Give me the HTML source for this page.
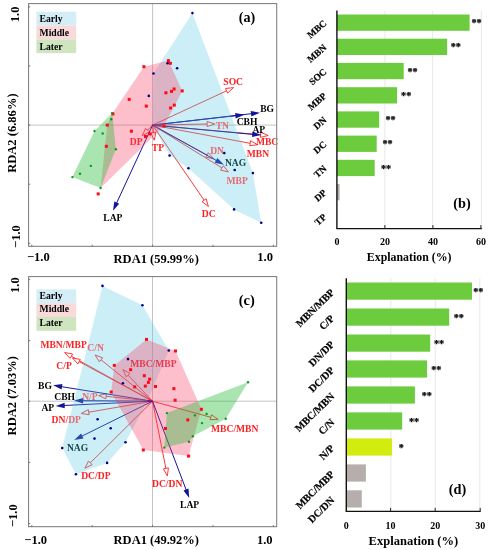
<!DOCTYPE html><html><head><meta charset="utf-8"><title>RDA</title><style>html,body{margin:0;padding:0;background:#fff}svg{display:block}text{font-family:"Liberation Serif",serif;font-weight:bold}</style></head><body>
<svg width="490" height="550" viewBox="0 0 490 550">
<defs><filter id="soft" x="0" y="0" width="100%" height="100%" filterUnits="userSpaceOnUse" color-interpolation-filters="sRGB"><feGaussianBlur stdDeviation="0.45"/></filter></defs>
<rect width="490" height="550" fill="#fff"/>
<g filter="url(#soft)">
<rect width="490" height="550" fill="#fff"/>
<line x1="28.6" y1="125.1" x2="276.7" y2="125.1" stroke="#ababab" stroke-width="0.7"/>
<line x1="152.6" y1="3.6" x2="152.6" y2="246.3" stroke="#ababab" stroke-width="0.7"/>
<rect x="36.4" y="11.7" width="39.8" height="13.8" fill="#d3eef6"/>
<text x="39.5" y="21.9" font-size="9.70" fill="#000" text-anchor="start" >Early</text>
<rect x="36.4" y="25.5" width="39.8" height="13.8" fill="#f9d9da"/>
<text x="39.5" y="35.7" font-size="9.70" fill="#000" text-anchor="start" >Middle</text>
<rect x="36.4" y="39.3" width="39.8" height="13.8" fill="#cfe5c0"/>
<text x="39.5" y="49.5" font-size="9.70" fill="#000" text-anchor="start" >Later</text>
<line x1="152.6" y1="125.1" x2="226.6" y2="90.8" stroke="#fa2222" stroke-width="0.90"/>
<polygon points="233.5,87.6 227.7,93.1 225.5,88.5" fill="#fff" stroke="#fa2222" stroke-width="0.90" stroke-linejoin="miter"/>
<line x1="152.6" y1="125.1" x2="207.1" y2="124.0" stroke="#fa2222" stroke-width="0.90"/>
<polygon points="214.7,123.9 207.2,126.6 207.1,121.5" fill="#fff" stroke="#fa2222" stroke-width="0.90" stroke-linejoin="miter"/>
<line x1="152.6" y1="125.1" x2="260.6" y2="134.8" stroke="#fa2222" stroke-width="0.90"/>
<polygon points="268.2,135.5 260.4,137.4 260.9,132.3" fill="#fff" stroke="#fa2222" stroke-width="0.90" stroke-linejoin="miter"/>
<line x1="152.6" y1="125.1" x2="250.1" y2="143.3" stroke="#fa2222" stroke-width="0.90"/>
<polygon points="257.6,144.7 249.7,145.8 250.6,140.8" fill="#fff" stroke="#fa2222" stroke-width="0.90" stroke-linejoin="miter"/>
<line x1="152.6" y1="125.1" x2="207.0" y2="154.9" stroke="#fa2222" stroke-width="0.90"/>
<polygon points="213.7,158.6 205.8,157.2 208.3,152.7" fill="#fff" stroke="#fa2222" stroke-width="0.90" stroke-linejoin="miter"/>
<line x1="152.6" y1="125.1" x2="221.9" y2="167.9" stroke="#fa2222" stroke-width="0.90"/>
<polygon points="228.4,171.9 220.6,170.1 223.3,165.7" fill="#fff" stroke="#fa2222" stroke-width="0.90" stroke-linejoin="miter"/>
<line x1="152.6" y1="125.1" x2="204.1" y2="200.2" stroke="#fa2222" stroke-width="0.90"/>
<polygon points="208.4,206.5 202.0,201.7 206.2,198.8" fill="#fff" stroke="#fa2222" stroke-width="0.90" stroke-linejoin="miter"/>
<line x1="152.6" y1="125.1" x2="147.5" y2="130.2" stroke="#fa2222" stroke-width="0.90"/>
<polygon points="142.2,135.6 145.7,128.4 149.4,132.0" fill="#fff" stroke="#fa2222" stroke-width="0.90" stroke-linejoin="miter"/>
<line x1="152.6" y1="125.1" x2="153.4" y2="132.6" stroke="#fa2222" stroke-width="0.90"/>
<polygon points="154.2,140.2 150.9,132.9 155.9,132.4" fill="#fff" stroke="#fa2222" stroke-width="0.90" stroke-linejoin="miter"/>
<line x1="152.6" y1="125.1" x2="252.1" y2="113.6" stroke="#14149a" stroke-width="1.00"/>
<polygon points="260.0,112.7 251.4,116.4 250.7,111.1" fill="#14149a"/>
<line x1="152.6" y1="125.1" x2="236.4" y2="115.6" stroke="#14149a" stroke-width="1.00"/>
<polygon points="244.3,114.7 235.7,118.4 235.1,113.0" fill="#14149a"/>
<line x1="152.6" y1="125.1" x2="253.2" y2="134.4" stroke="#14149a" stroke-width="1.00"/>
<polygon points="261.2,135.1 252.0,137.0 252.5,131.6" fill="#14149a"/>
<line x1="152.6" y1="125.1" x2="216.9" y2="160.8" stroke="#14149a" stroke-width="1.00"/>
<polygon points="223.9,164.7 214.7,162.7 217.3,158.0" fill="#14149a"/>
<line x1="152.6" y1="125.1" x2="116.4" y2="203.5" stroke="#14149a" stroke-width="1.00"/>
<polygon points="113.0,210.8 114.3,201.5 119.2,203.8" fill="#14149a"/>
<text x="223.3" y="85.1" font-size="9.60" fill="#fa2222" text-anchor="start" >SOC</text>
<text x="260.2" y="112.4" font-size="9.60" fill="#000" text-anchor="start" >BG</text>
<text x="236.7" y="124.7" font-size="9.60" fill="#000" text-anchor="start" >CBH</text>
<text x="252.4" y="132.5" font-size="9.60" fill="#000" text-anchor="start" >AP</text>
<text x="255.9" y="144.7" font-size="9.60" fill="#fa2222" text-anchor="start" >MBC</text>
<text x="246.7" y="156.9" font-size="9.60" fill="#fa2222" text-anchor="start" >MBN</text>
<text x="201.8" y="217.1" font-size="9.60" fill="#fa2222" text-anchor="start" >DC</text>
<text x="129.8" y="145.1" font-size="9.60" fill="#fa2222" text-anchor="start" >DP</text>
<text x="151.8" y="151.0" font-size="9.60" fill="#fa2222" text-anchor="start" >TP</text>
<text x="103.3" y="221.4" font-size="9.60" fill="#000" text-anchor="start" >LAP</text>
<polygon points="192.4,13.1 252.9,173.1 261.2,222.7 234.1,209.4 188.4,168.3 169.6,155.5 152.8,125.6 153.5,73.5" fill="rgba(85,200,225,0.30)"/>
<polygon points="143.9,66.7 168.4,60.6 182.2,90.9 163.9,126.1 100.6,188.0 107.3,125.1 112.6,113.3" fill="rgba(250,62,96,0.33)"/>
<polygon points="112.2,113.1 115.9,149.2 100.6,188.0 72.4,177.1 94.5,131.0" fill="rgba(42,187,60,0.40)"/>
<text x="215.7" y="129.2" font-size="9.60" fill="#e86a74" text-anchor="start" >TN</text>
<text x="210.2" y="153.9" font-size="9.60" fill="#e86a74" text-anchor="start" >DN</text>
<text x="224.9" y="165.5" font-size="9.60" fill="#184850" text-anchor="start" >NAG</text>
<text x="226.5" y="184.1" font-size="9.60" fill="#e86a74" text-anchor="start" >MBP</text>
<circle cx="192.4" cy="13.1" r="1.30" fill="#00008c"/>
<circle cx="167.6" cy="63.3" r="1.30" fill="#00008c"/>
<circle cx="177.1" cy="68.2" r="1.30" fill="#00008c"/>
<circle cx="153.5" cy="73.5" r="1.30" fill="#00008c"/>
<circle cx="148.8" cy="95.9" r="1.30" fill="#00008c"/>
<circle cx="169.6" cy="155.5" r="1.30" fill="#00008c"/>
<circle cx="188.4" cy="168.3" r="1.30" fill="#00008c"/>
<circle cx="224.3" cy="153.1" r="1.30" fill="#00008c"/>
<circle cx="234.7" cy="170.0" r="1.30" fill="#00008c"/>
<circle cx="252.9" cy="173.1" r="1.30" fill="#00008c"/>
<circle cx="234.1" cy="209.4" r="1.30" fill="#00008c"/>
<circle cx="261.2" cy="222.7" r="1.30" fill="#00008c"/>
<rect x="142.4" y="65.2" width="3.0" height="3.0" fill="#ff0a14"/>
<rect x="166.9" y="59.1" width="3.0" height="3.0" fill="#ff0a14"/>
<rect x="168.9" y="61.8" width="3.0" height="3.0" fill="#ff0a14"/>
<rect x="164.4" y="91.3" width="3.0" height="3.0" fill="#ff0a14"/>
<rect x="170.0" y="89.9" width="3.0" height="3.0" fill="#ff0a14"/>
<rect x="172.6" y="87.5" width="3.0" height="3.0" fill="#ff0a14"/>
<rect x="180.7" y="89.4" width="3.0" height="3.0" fill="#ff0a14"/>
<rect x="127.7" y="97.9" width="3.0" height="3.0" fill="#ff0a14"/>
<rect x="144.8" y="104.6" width="3.0" height="3.0" fill="#ff0a14"/>
<rect x="172.8" y="103.6" width="3.0" height="3.0" fill="#ff0a14"/>
<rect x="169.1" y="106.5" width="3.0" height="3.0" fill="#ff0a14"/>
<rect x="111.4" y="112.4" width="3.0" height="3.0" fill="#ff0a14"/>
<rect x="105.8" y="123.6" width="3.0" height="3.0" fill="#ff0a14"/>
<rect x="129.9" y="129.7" width="3.0" height="3.0" fill="#ff0a14"/>
<rect x="162.4" y="124.6" width="3.0" height="3.0" fill="#ff0a14"/>
<rect x="144.0" y="135.0" width="3.0" height="3.0" fill="#ff0a14"/>
<rect x="148.3" y="132.4" width="3.0" height="3.0" fill="#ff0a14"/>
<rect x="104.8" y="144.8" width="3.0" height="3.0" fill="#ff0a14"/>
<rect x="96.7" y="192.4" width="3.0" height="3.0" fill="#ff0a14"/>
<circle cx="112.2" cy="113.1" r="1.20" fill="#0a9a1e"/>
<circle cx="111.2" cy="119.2" r="1.20" fill="#0a9a1e"/>
<circle cx="94.5" cy="131.0" r="1.20" fill="#0a9a1e"/>
<circle cx="102.7" cy="133.5" r="1.20" fill="#0a9a1e"/>
<circle cx="115.9" cy="149.2" r="1.20" fill="#0a9a1e"/>
<circle cx="90.8" cy="165.9" r="1.20" fill="#0a9a1e"/>
<circle cx="80.0" cy="173.7" r="1.20" fill="#0a9a1e"/>
<circle cx="72.4" cy="177.1" r="1.20" fill="#0a9a1e"/>
<circle cx="100.6" cy="188.0" r="1.20" fill="#0a9a1e"/>
<rect x="28.6" y="3.6" width="248.1" height="242.7" fill="none" stroke="#777" stroke-width="1"/>
<line x1="31.8" y1="246.3" x2="31.8" y2="244.7" stroke="#555" stroke-width="0.8"/>
<line x1="92.2" y1="246.3" x2="92.2" y2="244.7" stroke="#555" stroke-width="0.8"/>
<line x1="152.6" y1="246.3" x2="152.6" y2="244.7" stroke="#555" stroke-width="0.8"/>
<line x1="213.0" y1="246.3" x2="213.0" y2="244.7" stroke="#555" stroke-width="0.8"/>
<line x1="273.4" y1="246.3" x2="273.4" y2="244.7" stroke="#555" stroke-width="0.8"/>
<line x1="28.6" y1="6.9" x2="30.2" y2="6.9" stroke="#555" stroke-width="0.8"/>
<line x1="28.6" y1="66.0" x2="30.2" y2="66.0" stroke="#555" stroke-width="0.8"/>
<line x1="28.6" y1="125.1" x2="30.2" y2="125.1" stroke="#555" stroke-width="0.8"/>
<line x1="28.6" y1="184.2" x2="30.2" y2="184.2" stroke="#555" stroke-width="0.8"/>
<line x1="28.6" y1="243.3" x2="30.2" y2="243.3" stroke="#555" stroke-width="0.8"/>
<text x="238.8" y="22.2" font-size="13.70" fill="#000" text-anchor="start" textLength="16.5" lengthAdjust="spacingAndGlyphs">(a)</text>
<text x="27.0" y="261.1" font-size="12.50" fill="#000" text-anchor="start" >−1.0</text>
<text x="257.3" y="261.1" font-size="12.50" fill="#000" text-anchor="start" >1.0</text>
<text x="113.6" y="262.7" font-size="11.70" fill="#000" text-anchor="start" textLength="85.4" lengthAdjust="spacingAndGlyphs">RDA1 (59.99%)</text>
<text transform="translate(19.0 22.2) rotate(-90.0)" font-size="12.50" fill="#000" text-anchor="start" >1.0</text>
<text transform="translate(19.6 247.9) rotate(-90.0)" font-size="12.50" fill="#000" text-anchor="start" >−1.0</text>
<text transform="translate(16.4 172.8) rotate(-90.0)" font-size="11.70" fill="#000" text-anchor="start" textLength="79.4" lengthAdjust="spacingAndGlyphs">RDA2 (6.86%)</text>
<line x1="28.6" y1="401.2" x2="276.7" y2="401.2" stroke="#ababab" stroke-width="0.7"/>
<line x1="152.5" y1="276.6" x2="152.5" y2="526.7" stroke="#ababab" stroke-width="0.7"/>
<rect x="36.4" y="289.4" width="39.8" height="13.8" fill="#d3eef6"/>
<text x="39.5" y="298.6" font-size="9.70" fill="#000" text-anchor="start" >Early</text>
<rect x="36.4" y="303.2" width="39.8" height="13.8" fill="#f9d9da"/>
<text x="39.5" y="312.4" font-size="9.70" fill="#000" text-anchor="start" >Middle</text>
<rect x="36.4" y="317.0" width="39.8" height="13.8" fill="#cfe5c0"/>
<text x="39.5" y="326.2" font-size="9.70" fill="#000" text-anchor="start" >Later</text>
<line x1="152.5" y1="401.2" x2="71.3" y2="356.2" stroke="#fa2222" stroke-width="0.90"/>
<polygon points="64.7,352.5 72.6,354.0 70.1,358.4" fill="#fff" stroke="#fa2222" stroke-width="0.90" stroke-linejoin="miter"/>
<line x1="152.5" y1="401.2" x2="79.1" y2="361.6" stroke="#fa2222" stroke-width="0.90"/>
<polygon points="72.4,358.0 80.3,359.4 77.9,363.9" fill="#fff" stroke="#fa2222" stroke-width="0.90" stroke-linejoin="miter"/>
<line x1="152.5" y1="401.2" x2="101.0" y2="359.8" stroke="#fa2222" stroke-width="0.90"/>
<polygon points="95.1,355.0 102.6,357.8 99.4,361.8" fill="#fff" stroke="#fa2222" stroke-width="0.90" stroke-linejoin="miter"/>
<line x1="152.5" y1="401.2" x2="128.1" y2="375.1" stroke="#fa2222" stroke-width="0.90"/>
<polygon points="122.9,369.6 130.0,373.4 126.2,376.9" fill="#fff" stroke="#fa2222" stroke-width="0.90" stroke-linejoin="miter"/>
<line x1="152.5" y1="401.2" x2="106.2" y2="396.3" stroke="#fa2222" stroke-width="0.90"/>
<polygon points="98.6,395.5 106.4,393.8 105.9,398.8" fill="#fff" stroke="#fa2222" stroke-width="0.90" stroke-linejoin="miter"/>
<line x1="152.5" y1="401.2" x2="88.7" y2="412.2" stroke="#fa2222" stroke-width="0.90"/>
<polygon points="81.2,413.5 88.3,409.7 89.1,414.7" fill="#fff" stroke="#fa2222" stroke-width="0.90" stroke-linejoin="miter"/>
<line x1="152.5" y1="401.2" x2="90.3" y2="462.8" stroke="#fa2222" stroke-width="0.90"/>
<polygon points="84.9,468.2 88.5,461.0 92.1,464.7" fill="#fff" stroke="#fa2222" stroke-width="0.90" stroke-linejoin="miter"/>
<line x1="152.5" y1="401.2" x2="165.9" y2="468.4" stroke="#fa2222" stroke-width="0.90"/>
<polygon points="167.4,475.9 163.4,468.9 168.4,467.9" fill="#fff" stroke="#fa2222" stroke-width="0.90" stroke-linejoin="miter"/>
<line x1="152.5" y1="401.2" x2="210.8" y2="417.3" stroke="#fa2222" stroke-width="0.90"/>
<polygon points="218.1,419.3 210.1,419.7 211.5,414.8" fill="#fff" stroke="#fa2222" stroke-width="0.90" stroke-linejoin="miter"/>
<line x1="152.5" y1="401.2" x2="61.0" y2="386.6" stroke="#14149a" stroke-width="1.00"/>
<polygon points="53.1,385.3 62.4,384.1 61.6,389.4" fill="#14149a"/>
<line x1="152.5" y1="401.2" x2="82.1" y2="400.7" stroke="#14149a" stroke-width="1.00"/>
<polygon points="74.1,400.6 83.1,398.0 83.1,403.4" fill="#14149a"/>
<line x1="152.5" y1="401.2" x2="63.7" y2="405.5" stroke="#14149a" stroke-width="1.00"/>
<polygon points="55.7,405.9 64.6,402.8 64.8,408.2" fill="#14149a"/>
<line x1="152.5" y1="401.2" x2="81.4" y2="436.4" stroke="#14149a" stroke-width="1.00"/>
<polygon points="74.2,440.0 81.1,433.6 83.5,438.4" fill="#14149a"/>
<line x1="152.5" y1="401.2" x2="186.4" y2="490.5" stroke="#14149a" stroke-width="1.00"/>
<polygon points="189.2,498.0 183.5,490.5 188.5,488.6" fill="#14149a"/>
<text x="40.4" y="348.4" font-size="9.60" fill="#fa2222" text-anchor="start" >MBN/MBP</text>
<text x="56.3" y="369.4" font-size="9.60" fill="#fa2222" text-anchor="start" >C/P</text>
<text x="38.0" y="389.0" font-size="9.60" fill="#000" text-anchor="start" >BG</text>
<text x="54.3" y="399.6" font-size="9.60" fill="#000" text-anchor="start" >CBH</text>
<text x="41.4" y="410.8" font-size="9.60" fill="#000" text-anchor="start" >AP</text>
<text x="81.2" y="478.8" font-size="9.60" fill="#fa2222" text-anchor="start" >DC/DP</text>
<text x="152.0" y="487.1" font-size="9.60" fill="#fa2222" text-anchor="start" >DC/DN</text>
<text x="211.0" y="431.6" font-size="9.60" fill="#fa2222" text-anchor="start" >MBC/MBN</text>
<text x="180.0" y="508.2" font-size="9.60" fill="#000" text-anchor="start" >LAP</text>
<polygon points="102.5,285.9 142.4,305.3 168.8,350.5 148.6,398.5 125.5,442.2 107.1,462.9 75.9,474.3 62.2,448.0" fill="rgba(85,200,225,0.30)"/>
<polygon points="146.5,339.4 175.5,351.0 201.4,409.3 188.6,456.1 143.3,450.0 111.2,392.0 114.3,365.4" fill="rgba(250,62,96,0.33)"/>
<polygon points="248.0,382.2 225.7,418.7 192.9,436.2 189.0,441.8 164.3,447.6 166.9,413.1" fill="rgba(42,187,60,0.40)"/>
<text x="87.3" y="351.0" font-size="9.60" fill="#e86a74" text-anchor="start" >C/N</text>
<text x="130.2" y="367.3" font-size="9.60" fill="#e23c52" text-anchor="start" >MBC/MBP</text>
<text x="82.2" y="400.0" font-size="9.60" fill="#e86a74" text-anchor="start" >N/P</text>
<text x="51.6" y="423.1" font-size="9.60" fill="#e86a74" text-anchor="start" ><tspan fill="#fa2222">DN/</tspan>DP</text>
<text x="66.9" y="450.8" font-size="9.60" fill="#184850" text-anchor="start" >NAG</text>
<circle cx="102.5" cy="285.9" r="1.30" fill="#00008c"/>
<circle cx="142.4" cy="305.3" r="1.30" fill="#00008c"/>
<circle cx="168.8" cy="350.5" r="1.30" fill="#00008c"/>
<circle cx="128.0" cy="359.1" r="1.30" fill="#00008c"/>
<circle cx="122.9" cy="383.3" r="1.30" fill="#00008c"/>
<circle cx="97.6" cy="419.2" r="1.30" fill="#00008c"/>
<circle cx="110.7" cy="428.3" r="1.30" fill="#00008c"/>
<circle cx="94.5" cy="438.6" r="1.30" fill="#00008c"/>
<circle cx="62.2" cy="448.0" r="1.30" fill="#00008c"/>
<circle cx="125.5" cy="442.2" r="1.30" fill="#00008c"/>
<circle cx="107.1" cy="462.9" r="1.30" fill="#00008c"/>
<circle cx="75.9" cy="474.3" r="1.30" fill="#00008c"/>
<rect x="145.0" y="337.9" width="3.0" height="3.0" fill="#ff0a14"/>
<rect x="174.0" y="349.5" width="3.0" height="3.0" fill="#ff0a14"/>
<rect x="112.8" y="363.9" width="3.0" height="3.0" fill="#ff0a14"/>
<rect x="129.1" y="368.2" width="3.0" height="3.0" fill="#ff0a14"/>
<rect x="142.8" y="374.2" width="3.0" height="3.0" fill="#ff0a14"/>
<rect x="148.1" y="377.7" width="3.0" height="3.0" fill="#ff0a14"/>
<rect x="146.9" y="380.9" width="3.0" height="3.0" fill="#ff0a14"/>
<rect x="143.8" y="384.6" width="3.0" height="3.0" fill="#ff0a14"/>
<rect x="133.2" y="385.4" width="3.0" height="3.0" fill="#ff0a14"/>
<rect x="154.0" y="385.0" width="3.0" height="3.0" fill="#ff0a14"/>
<rect x="172.4" y="387.1" width="3.0" height="3.0" fill="#ff0a14"/>
<rect x="109.7" y="390.5" width="3.0" height="3.0" fill="#ff0a14"/>
<rect x="173.6" y="398.7" width="3.0" height="3.0" fill="#ff0a14"/>
<rect x="199.9" y="407.8" width="3.0" height="3.0" fill="#ff0a14"/>
<rect x="186.3" y="418.4" width="3.0" height="3.0" fill="#ff0a14"/>
<rect x="164.0" y="427.0" width="3.0" height="3.0" fill="#ff0a14"/>
<rect x="141.8" y="448.5" width="3.0" height="3.0" fill="#ff0a14"/>
<rect x="187.1" y="454.6" width="3.0" height="3.0" fill="#ff0a14"/>
<circle cx="248.0" cy="382.2" r="1.20" fill="#0a9a1e"/>
<circle cx="166.9" cy="413.1" r="1.20" fill="#0a9a1e"/>
<circle cx="194.9" cy="415.4" r="1.20" fill="#0a9a1e"/>
<circle cx="206.6" cy="413.9" r="1.20" fill="#0a9a1e"/>
<circle cx="225.7" cy="418.7" r="1.20" fill="#0a9a1e"/>
<circle cx="202.0" cy="423.1" r="1.20" fill="#0a9a1e"/>
<circle cx="192.9" cy="436.2" r="1.20" fill="#0a9a1e"/>
<circle cx="189.0" cy="441.8" r="1.20" fill="#0a9a1e"/>
<circle cx="164.3" cy="447.6" r="1.20" fill="#0a9a1e"/>
<rect x="28.6" y="276.6" width="248.1" height="250.1" fill="none" stroke="#777" stroke-width="1"/>
<line x1="31.8" y1="526.7" x2="31.8" y2="525.1" stroke="#555" stroke-width="0.8"/>
<line x1="92.2" y1="526.7" x2="92.2" y2="525.1" stroke="#555" stroke-width="0.8"/>
<line x1="152.6" y1="526.7" x2="152.6" y2="525.1" stroke="#555" stroke-width="0.8"/>
<line x1="213.0" y1="526.7" x2="213.0" y2="525.1" stroke="#555" stroke-width="0.8"/>
<line x1="273.4" y1="526.7" x2="273.4" y2="525.1" stroke="#555" stroke-width="0.8"/>
<line x1="28.6" y1="279.6" x2="30.2" y2="279.6" stroke="#555" stroke-width="0.8"/>
<line x1="28.6" y1="340.6" x2="30.2" y2="340.6" stroke="#555" stroke-width="0.8"/>
<line x1="28.6" y1="401.2" x2="30.2" y2="401.2" stroke="#555" stroke-width="0.8"/>
<line x1="28.6" y1="462.4" x2="30.2" y2="462.4" stroke="#555" stroke-width="0.8"/>
<line x1="28.6" y1="523.5" x2="30.2" y2="523.5" stroke="#555" stroke-width="0.8"/>
<text x="238.8" y="305.0" font-size="14.00" fill="#000" text-anchor="start" textLength="16.0" lengthAdjust="spacingAndGlyphs">(c)</text>
<text x="24.3" y="544.3" font-size="12.50" fill="#000" text-anchor="start" >−1.0</text>
<text x="256.9" y="544.3" font-size="12.50" fill="#000" text-anchor="start" >1.0</text>
<text x="113.6" y="543.5" font-size="11.70" fill="#000" text-anchor="start" textLength="85.4" lengthAdjust="spacingAndGlyphs">RDA1 (49.92%)</text>
<text transform="translate(19.0 292.9) rotate(-90.0)" font-size="12.50" fill="#000" text-anchor="start" >1.0</text>
<text transform="translate(17.1 527.1) rotate(-90.0)" font-size="12.50" fill="#000" text-anchor="start" >−1.0</text>
<text transform="translate(16.4 435.4) rotate(-90.0)" font-size="11.70" fill="#000" text-anchor="start" textLength="79.4" lengthAdjust="spacingAndGlyphs">RDA2 (7.03%)</text>
<line x1="384.9" y1="10.6" x2="384.9" y2="228.6" stroke="#e2e2e2" stroke-width="0.8"/>
<line x1="432.6" y1="10.6" x2="432.6" y2="228.6" stroke="#e2e2e2" stroke-width="0.8"/>
<line x1="481.4" y1="10.6" x2="481.4" y2="228.6" stroke="#e2e2e2" stroke-width="0.8"/>
<rect x="336.9" y="14.5" width="132.7" height="16.3" fill="#6ccc3e"/>
<text x="471.5" y="26.1" font-size="11.00" fill="#000" text-anchor="start" stroke="#000" stroke-width="0.25" textLength="10.1" lengthAdjust="spacingAndGlyphs">**</text>
<text transform="translate(327.2 24.2) rotate(-41.0)" font-size="9.50" fill="#000" text-anchor="end" stroke="#000" stroke-width="0.2">MBC</text>
<rect x="336.9" y="38.7" width="110.2" height="16.3" fill="#6ccc3e"/>
<text x="450.7" y="50.4" font-size="11.00" fill="#000" text-anchor="start" stroke="#000" stroke-width="0.25" textLength="10.1" lengthAdjust="spacingAndGlyphs">**</text>
<text transform="translate(327.2 48.5) rotate(-41.0)" font-size="9.50" fill="#000" text-anchor="end" stroke="#000" stroke-width="0.2">MBN</text>
<rect x="336.9" y="62.9" width="66.8" height="16.3" fill="#6ccc3e"/>
<text x="407.5" y="74.6" font-size="11.00" fill="#000" text-anchor="start" stroke="#000" stroke-width="0.25" textLength="10.1" lengthAdjust="spacingAndGlyphs">**</text>
<text transform="translate(327.2 72.7) rotate(-41.0)" font-size="9.50" fill="#000" text-anchor="end" stroke="#000" stroke-width="0.2">SOC</text>
<rect x="336.9" y="87.2" width="60.2" height="16.3" fill="#6ccc3e"/>
<text x="401.1" y="98.8" font-size="11.00" fill="#000" text-anchor="start" stroke="#000" stroke-width="0.25" textLength="10.1" lengthAdjust="spacingAndGlyphs">**</text>
<text transform="translate(327.2 96.9) rotate(-41.0)" font-size="9.50" fill="#000" text-anchor="end" stroke="#000" stroke-width="0.2">MBP</text>
<rect x="336.9" y="111.4" width="42.3" height="16.3" fill="#6ccc3e"/>
<text x="385.4" y="123.0" font-size="11.00" fill="#000" text-anchor="start" stroke="#000" stroke-width="0.25" textLength="10.1" lengthAdjust="spacingAndGlyphs">**</text>
<text transform="translate(327.2 121.1) rotate(-41.0)" font-size="9.50" fill="#000" text-anchor="end" stroke="#000" stroke-width="0.2">DN</text>
<rect x="336.9" y="135.6" width="39.8" height="16.3" fill="#6ccc3e"/>
<text x="382.4" y="147.2" font-size="11.00" fill="#000" text-anchor="start" stroke="#000" stroke-width="0.25" textLength="10.1" lengthAdjust="spacingAndGlyphs">**</text>
<text transform="translate(327.2 145.3) rotate(-41.0)" font-size="9.50" fill="#000" text-anchor="end" stroke="#000" stroke-width="0.2">DC</text>
<rect x="336.9" y="159.8" width="37.8" height="16.3" fill="#6ccc3e"/>
<text x="380.9" y="171.5" font-size="11.00" fill="#000" text-anchor="start" stroke="#000" stroke-width="0.25" textLength="10.1" lengthAdjust="spacingAndGlyphs">**</text>
<text transform="translate(327.2 169.6) rotate(-41.0)" font-size="9.50" fill="#000" text-anchor="end" stroke="#000" stroke-width="0.2">TN</text>
<rect x="336.9" y="184.0" width="2.7" height="16.3" fill="#b6aeac"/>
<text transform="translate(327.2 193.8) rotate(-41.0)" font-size="9.50" fill="#000" text-anchor="end" stroke="#000" stroke-width="0.2">DP</text>
<text transform="translate(327.2 218.0) rotate(-41.0)" font-size="9.50" fill="#000" text-anchor="end" stroke="#000" stroke-width="0.2">TP</text>
<line x1="336.9" y1="10.6" x2="336.9" y2="228.6" stroke="#111" stroke-width="1.4"/>
<line x1="336.3" y1="228.6" x2="481.9" y2="228.6" stroke="#111" stroke-width="1.4"/>
<text x="336.9" y="244.9" font-size="10.00" fill="#000" text-anchor="middle" >0</text>
<line x1="384.9" y1="228.6" x2="384.9" y2="225.1" stroke="#222" stroke-width="1.0"/>
<text x="384.9" y="244.9" font-size="10.00" fill="#000" text-anchor="middle" >20</text>
<line x1="432.9" y1="228.6" x2="432.9" y2="225.1" stroke="#222" stroke-width="1.0"/>
<text x="432.9" y="244.9" font-size="10.00" fill="#000" text-anchor="middle" >40</text>
<line x1="480.9" y1="228.6" x2="480.9" y2="225.1" stroke="#222" stroke-width="1.0"/>
<text x="480.9" y="244.9" font-size="10.00" fill="#000" text-anchor="middle" >60</text>
<text x="453.3" y="207.5" font-size="14.30" fill="#000" text-anchor="start" >(b)</text>
<text x="366.8" y="260.6" font-size="11.80" fill="#000" text-anchor="start" textLength="84.7" lengthAdjust="spacingAndGlyphs">Explanation (%)</text>
<line x1="390.8" y1="278.2" x2="390.8" y2="511.4" stroke="#e2e2e2" stroke-width="0.8"/>
<line x1="435.3" y1="278.2" x2="435.3" y2="511.4" stroke="#e2e2e2" stroke-width="0.8"/>
<line x1="479.8" y1="278.2" x2="479.8" y2="511.4" stroke="#e2e2e2" stroke-width="0.8"/>
<rect x="346.3" y="282.5" width="125.7" height="17.2" fill="#6ccc3e"/>
<text x="473.2" y="294.6" font-size="11.00" fill="#000" text-anchor="start" stroke="#000" stroke-width="0.25" textLength="10.1" lengthAdjust="spacingAndGlyphs">**</text>
<text transform="translate(335.0 293.1) rotate(-44.5)" font-size="10.20" fill="#000" text-anchor="end" stroke="#000" stroke-width="0.2">MBN/MBP</text>
<rect x="346.3" y="308.5" width="102.9" height="17.2" fill="#6ccc3e"/>
<text x="453.8" y="320.6" font-size="11.00" fill="#000" text-anchor="start" stroke="#000" stroke-width="0.25" textLength="10.1" lengthAdjust="spacingAndGlyphs">**</text>
<text transform="translate(335.0 319.1) rotate(-44.5)" font-size="10.20" fill="#000" text-anchor="end" stroke="#000" stroke-width="0.2">C/P</text>
<rect x="346.3" y="334.5" width="83.9" height="17.2" fill="#6ccc3e"/>
<text x="434.0" y="346.6" font-size="11.00" fill="#000" text-anchor="start" stroke="#000" stroke-width="0.25" textLength="10.1" lengthAdjust="spacingAndGlyphs">**</text>
<text transform="translate(335.0 345.1) rotate(-44.5)" font-size="10.20" fill="#000" text-anchor="end" stroke="#000" stroke-width="0.2">DN/DP</text>
<rect x="346.3" y="360.4" width="80.8" height="17.2" fill="#6ccc3e"/>
<text x="431.3" y="372.5" font-size="11.00" fill="#000" text-anchor="start" stroke="#000" stroke-width="0.25" textLength="10.1" lengthAdjust="spacingAndGlyphs">**</text>
<text transform="translate(335.0 371.0) rotate(-44.5)" font-size="10.20" fill="#000" text-anchor="end" stroke="#000" stroke-width="0.2">DC/DP</text>
<rect x="346.3" y="386.4" width="68.6" height="17.2" fill="#6ccc3e"/>
<text x="421.7" y="398.5" font-size="11.00" fill="#000" text-anchor="start" stroke="#000" stroke-width="0.25" textLength="10.1" lengthAdjust="spacingAndGlyphs">**</text>
<text transform="translate(335.0 397.0) rotate(-44.5)" font-size="10.20" fill="#000" text-anchor="end" stroke="#000" stroke-width="0.2">MBC/MBN</text>
<rect x="346.3" y="412.4" width="55.9" height="17.2" fill="#6ccc3e"/>
<text x="408.9" y="424.5" font-size="11.00" fill="#000" text-anchor="start" stroke="#000" stroke-width="0.25" textLength="10.1" lengthAdjust="spacingAndGlyphs">**</text>
<text transform="translate(335.0 423.0) rotate(-44.5)" font-size="10.20" fill="#000" text-anchor="end" stroke="#000" stroke-width="0.2">C/N</text>
<rect x="346.3" y="438.4" width="45.7" height="17.2" fill="#d2ec10"/>
<text x="398.7" y="450.5" font-size="11.00" fill="#000" text-anchor="start" stroke="#000" stroke-width="0.25" textLength="5.0" lengthAdjust="spacingAndGlyphs">*</text>
<text transform="translate(335.0 449.0) rotate(-44.5)" font-size="10.20" fill="#000" text-anchor="end" stroke="#000" stroke-width="0.2">N/P</text>
<rect x="346.3" y="464.4" width="19.6" height="17.2" fill="#b6aeac"/>
<text transform="translate(335.0 475.0) rotate(-44.5)" font-size="10.20" fill="#000" text-anchor="end" stroke="#000" stroke-width="0.2">MBC/MBP</text>
<rect x="346.3" y="490.3" width="15.5" height="17.2" fill="#b6aeac"/>
<text transform="translate(335.0 500.9) rotate(-44.5)" font-size="10.20" fill="#000" text-anchor="end" stroke="#000" stroke-width="0.2">DC/DN</text>
<line x1="346.3" y1="278.2" x2="346.3" y2="511.4" stroke="#111" stroke-width="1.4"/>
<line x1="345.7" y1="511.4" x2="480.7" y2="511.4" stroke="#111" stroke-width="1.4"/>
<text x="346.3" y="528.5" font-size="10.00" fill="#000" text-anchor="middle" >0</text>
<line x1="390.6" y1="511.4" x2="390.6" y2="507.9" stroke="#222" stroke-width="1.0"/>
<text x="390.6" y="528.5" font-size="10.00" fill="#000" text-anchor="middle" >10</text>
<line x1="435.2" y1="511.4" x2="435.2" y2="507.9" stroke="#222" stroke-width="1.0"/>
<text x="435.2" y="528.5" font-size="10.00" fill="#000" text-anchor="middle" >20</text>
<line x1="480.2" y1="511.4" x2="480.2" y2="507.9" stroke="#222" stroke-width="1.0"/>
<text x="480.2" y="528.5" font-size="10.00" fill="#000" text-anchor="middle" >30</text>
<text x="448.8" y="493.5" font-size="14.30" fill="#000" text-anchor="start" >(d)</text>
<text x="368.6" y="545.3" font-size="11.80" fill="#000" text-anchor="start" textLength="89.6" lengthAdjust="spacingAndGlyphs">Explanation (%)</text>
</g></svg></body></html>
